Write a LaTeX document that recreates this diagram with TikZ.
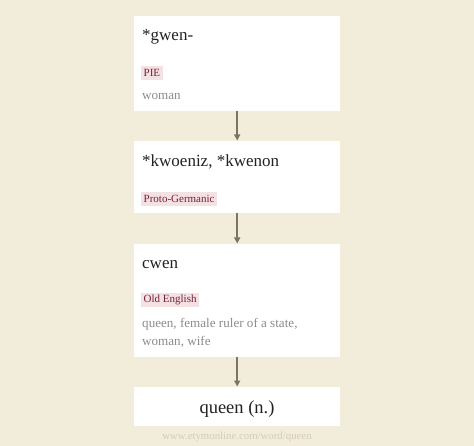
\documentclass[tikz,border=0pt]{standalone}
\usepackage{fontspec}
\setmainfont{Liberation Serif}
\usetikzlibrary{arrows.meta}
\definecolor{bg}{HTML}{F2ECDB}
\definecolor{arrowc}{HTML}{7B7565}
\definecolor{badgebg}{HTML}{F3E1E3}
\definecolor{badgefg}{HTML}{7A1F3A}
\definecolor{glossc}{HTML}{8C8C8C}
\definecolor{titlec}{HTML}{222222}
\definecolor{footc}{HTML}{D5CCB6}
\tikzset{
  box/.style={fill=white, draw=none, inner sep=0pt, anchor=north west},
  title/.style={anchor=base west, inner sep=0pt, text=titlec, font=\fontsize{17}{20}\selectfont},
  badge/.style={anchor=west, fill=badgebg, text=badgefg, inner xsep=2.5pt, inner ysep=0pt, minimum height=14pt, font=\fontsize{11}{13}\selectfont},
  gloss/.style={anchor=base west, inner sep=0pt, text=glossc, font=\fontsize{13.1}{18}\selectfont, align=left},
  arr/.style={draw=arrowc, line width=1.6pt, -{Triangle[width=6pt,length=6pt]}, shorten >=0.5pt},
}
\begin{document}
\begin{tikzpicture}[x=1pt,y=-1pt]
\useasboundingbox[fill=bg] (0,0) rectangle (474,446);
\node[box, minimum width=206pt, minimum height=95pt] (b1) at (134,16) {};
\node[box, minimum width=206pt, minimum height=72pt] (b2) at (134,141) {};
\node[box, minimum width=206pt, minimum height=113pt] (b3) at (134,244) {};
\node[box, minimum width=206pt, minimum height=39pt] (b4) at (134,387) {};
\node[title] (t1) at (142,41) {*gwen-};
\node[badge] (l1) at (141,73) {PIE};
\node[gloss] (g1) at (142,100) {woman};
\node[title] (t2) at (142,167) {*kwoeniz, *kwenon};
\node[badge] (l2) at (141,199) {Proto-Germanic};
\node[title] (t3) at (142,269) {cwen};
\node[badge] (l3) at (141,300) {Old English};
\node[gloss] (g3a) at (142,327) {queen, female ruler of a state,};
\node[gloss] (g3b) at (142,345) {woman, wife};
\node[anchor=base, inner sep=0pt, text=titlec, font=\fontsize{18.5}{22}\selectfont] (t4) at (237,413) {queen (n.)};
\node[anchor=base, inner sep=0pt, text=footc, font=\fontsize{10.8}{13}\selectfont] (foot) at (237,439) {www.etymonline.com/word/queen};
\draw[arr] (b1.south) -- (b2.north);
\draw[arr] (b2.south) -- (b3.north);
\draw[arr] (b3.south) -- (b4.north);
\end{tikzpicture}
\end{document}
